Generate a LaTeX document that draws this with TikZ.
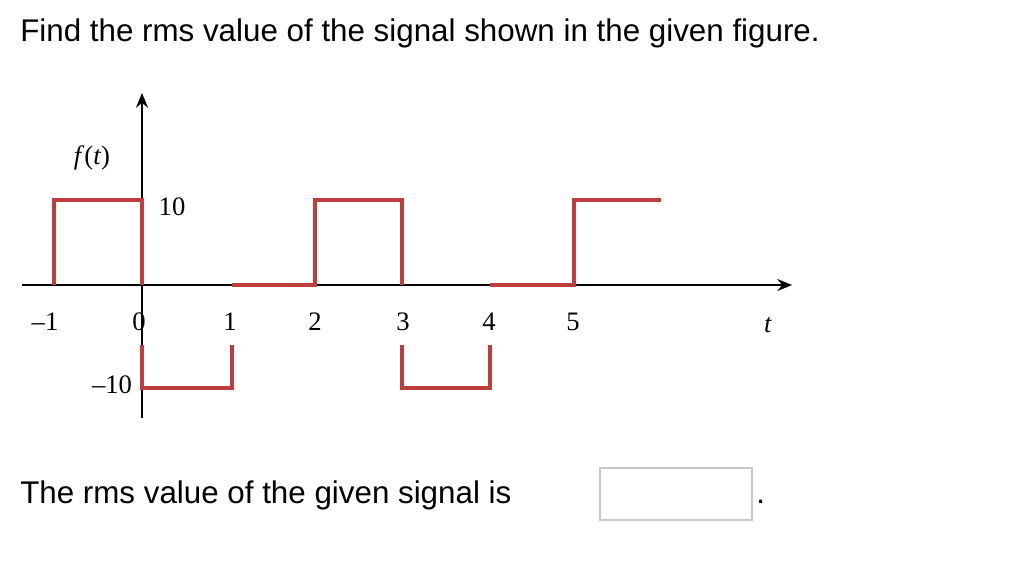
\documentclass[tikz,border=0pt]{standalone}
\usepackage{fontspec}
\usetikzlibrary{arrows.meta}
\setmainfont{Liberation Serif}
\newfontfamily\helv{Liberation Sans}
\begin{document}
\begin{tikzpicture}[x=0.75pt,y=-0.75pt,
  sig/.style={draw={rgb,255:red,190;green,62;blue,62},line width=2.4pt,line cap=butt,line join=miter},
  ax/.style={draw=black,line width=1.1pt},
  lbl/.style={font=\fontsize{20}{20}\selectfont,inner sep=0pt},
  txt/.style={font=\helv\fontsize{23.5}{23.5}\selectfont,inner sep=0pt,anchor=base west}]
\useasboundingbox (0,0) rectangle (1024,565);
\node[txt] (title) at (20,41) {Find the rms value of the signal shown in the given figure.};
% axes
\coordinate (xs) at (22,285); \coordinate (xe) at (792,285);
\coordinate (ys) at (142,418); \coordinate (ye) at (142,93);
\draw[ax,-{Stealth[length=11pt,width=9pt]}] (xs) -- (xe);
\draw[ax,-{Stealth[length=11pt,width=9pt]}] (ys) -- (ye);
% signal
\draw[sig] (54,285) -- (54,200) -- (142,200) -- (142,285);
\draw[sig] (142,345) -- (142,388) -- (232,388) -- (232,345);
\draw[sig] (232,285) -- (315,285) -- (315,200) -- (402,200) -- (402,285);
\draw[sig] (402,345) -- (402,388) -- (490,388) -- (490,345);
\draw[sig] (490,285) -- (574,285) -- (574,200) -- (661,200);
% labels
\node[lbl] (tm1) at (45,322) {\textendash1};
\node[lbl] (t0) at (139,322) {0};
\node[lbl] (t1) at (230,322) {1};
\node[lbl] (t2) at (315,322) {2};
\node[lbl] (t3) at (403,322) {3};
\node[lbl] (t4) at (489,322) {4};
\node[lbl] (t5) at (573,322) {5};
\node[lbl] (tt) at (768,325) {\textit{t}};
\node[lbl] (ft) at (92,158) {\textit{f}(\textit{t})};
\node[lbl] (p10) at (172,207) {10};
\node[lbl] (m10) at (112,385) {\textendash10};
% answer line
\node[txt] (ans) at (20,503) {The rms value of the given signal is};
\node[draw={rgb,255:red,200;green,200;blue,200},line width=0.8pt,minimum width=114pt,minimum height=39pt,inner sep=0pt] (box) at (676,494) {};
\node[txt] (dot) at (756,503) {.};
\end{tikzpicture}
\end{document}
